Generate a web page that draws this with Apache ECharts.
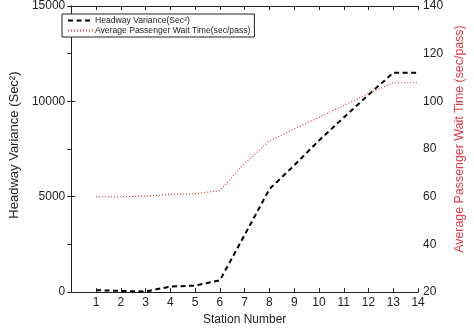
<!DOCTYPE html>
<html>
<head>
<meta charset="utf-8">
<script src="https://cdn.jsdelivr.net/npm/echarts@6/dist/echarts.min.js"></script>
<style>
  html, body { margin: 0; padding: 0; background: #fff; }
  #chart { width: 474px; height: 331px; }
</style>
</head>
<body>
<div id="chart"></div>
<script>
// Station numbers along the route
var stations = [1, 2, 3, 4, 5, 6, 7, 8, 9, 10, 11, 12, 13, 14];
// Headway variance at each station (sec^2), left axis
var headwayVariance = [100, 60, 30, 290, 340, 620, 3000, 5400, 6650, 7950, 9150, 10350, 11500, 11500];
// Average passenger wait time at each station (sec/pass), right axis
var waitTime = [60, 60, 60.2, 61, 61.3, 62.6, 74, 83.4, 88.4, 93.3, 98.3, 103.3, 107.8, 107.8];

var leftTicks = [0, 5000, 10000, 15000];
var rightTicks = [20, 40, 60, 80, 100, 120, 140];

function pairs(xs, ys) {
  return xs.map(function (x, i) { return [x, ys[i]]; });
}

var font = '"Liberation Sans", Arial, Helvetica, sans-serif';
var axisColor = '#222';
var red = '#e03a44';

var chart = echarts.init(document.getElementById('chart'), null, { renderer: 'canvas' });

var xBase = {
  type: 'value',
  min: 0,
  max: 14,
  interval: 1,
  axisLine: { show: true, onZero: false, lineStyle: { color: axisColor, width: 1 } },
  axisTick: { show: true, inside: true, length: 4, lineStyle: { color: axisColor } },
  splitLine: { show: false }
};

chart.setOption({
  animation: false,
  backgroundColor: '#fff',
  textStyle: { fontFamily: font },
  grid: { left: 59, right: 42, top: 6, bottom: 30, containLabel: false },
  legend: {
    left: 62,
    top: 14,
    orient: 'vertical',
    padding: [2, 4, 2, 5],
    itemGap: 1,
    itemWidth: 25,
    itemHeight: 9,
    borderColor: '#222',
    borderWidth: 1,
    selectedMode: false,
    backgroundColor: '#fff',
    itemStyle: { opacity: 0 },
    textStyle: { fontSize: 8.6, color: '#222', fontFamily: font, padding: [0, 0, 0, -3] },
    data: [
      { name: 'Headway Variance(Sec\u00b2)' },
      { name: 'Average Passenger Wait Time(sec/pass)' }
    ]
  },
  xAxis: [
    Object.assign({}, xBase, {
      position: 'bottom',
      name: 'Station Number',
      nameLocation: 'middle',
      nameGap: 19,
      nameTextStyle: { fontSize: 12, color: '#222', fontFamily: font },
      axisLabel: {
        show: true,
        fontSize: 12,
        color: '#222',
        margin: 5,
        fontFamily: font,
        formatter: function (v) { return stations.indexOf(v) >= 0 ? String(v) : ''; }
      }
    }),
    Object.assign({}, xBase, {
      position: 'top',
      axisLabel: { show: false }
    })
  ],
  yAxis: [
    {
      type: 'value',
      position: 'left',
      min: leftTicks[0],
      max: leftTicks[leftTicks.length - 1],
      interval: leftTicks[1] - leftTicks[0],
      name: '{gap|}{t|Headway Variance (Sec\u00b2)}',
      nameLocation: 'middle',
      nameRotate: 90,
      nameGap: 41,
      nameTextStyle: {
        fontSize: 13, color: '#222', fontFamily: font,
        rich: {
          t: { fontSize: 13, color: '#222', fontFamily: font },
          gap: { width: 8 }
        }
      },
      axisLine: { show: true, lineStyle: { color: axisColor, width: 1 } },
      axisTick: { show: true, inside: true, length: 4, lineStyle: { color: axisColor } },
      axisLabel: {
        fontSize: 12, color: '#222', margin: 6, fontFamily: font,
        formatter: function (v) { return String(v); }
      },
      splitLine: { show: false }
    },
    {
      type: 'value',
      position: 'right',
      min: rightTicks[0],
      max: rightTicks[rightTicks.length - 1],
      interval: rightTicks[1] - rightTicks[0],
      name: '{gap|}{t|Average Passenger Wait Time (sec/pass)}',
      nameLocation: 'middle',
      nameRotate: 90,
      nameGap: 27,
      nameTextStyle: {
        fontSize: 12.4, color: red, fontFamily: font,
        rich: {
          t: { fontSize: 12.4, color: red, fontFamily: font },
          gap: { width: 20 }
        }
      },
      axisLine: { show: true, lineStyle: { color: axisColor, width: 1 } },
      axisTick: { show: true, inside: true, length: 4, lineStyle: { color: axisColor } },
      axisLabel: { fontSize: 12, color: '#222', margin: 5, fontFamily: font },
      splitLine: { show: false }
    }
  ],
  series: [
    {
      name: 'Headway Variance(Sec\u00b2)',
      type: 'line',
      xAxisIndex: 0,
      yAxisIndex: 0,
      data: pairs(stations, headwayVariance),
      showSymbol: false,
      symbol: 'none',
      lineStyle: { color: '#000', width: 2, type: [5, 3.5] },
      itemStyle: { color: '#000' }
    },
    {
      name: 'Average Passenger Wait Time(sec/pass)',
      type: 'line',
      xAxisIndex: 0,
      yAxisIndex: 1,
      data: pairs(stations, waitTime),
      showSymbol: false,
      symbol: 'none',
      lineStyle: { color: red, width: 1.2, type: [1, 2] },
      itemStyle: { color: red }
    }
  ]
});
</script>
</body>
</html>
